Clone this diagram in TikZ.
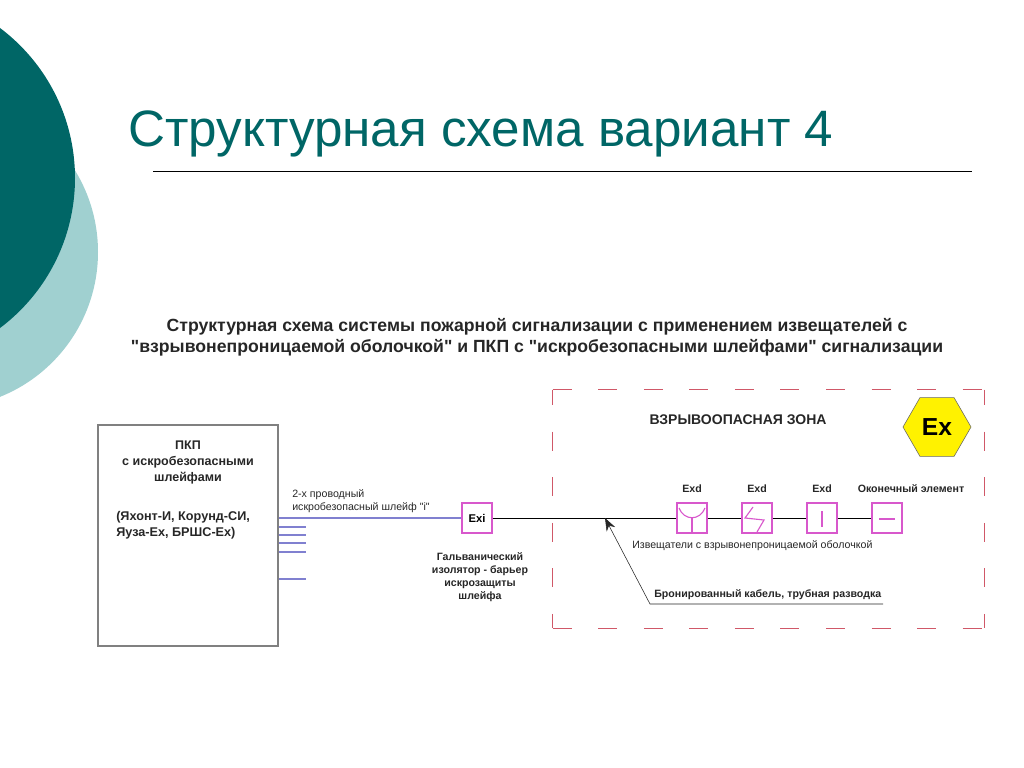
\documentclass[tikz,border=0pt]{standalone}
\usepackage{fontspec}
\setmainfont{Liberation Sans}
\newfontfamily\plainfont{Liberation Sans}
\usetikzlibrary{arrows.meta,shapes,positioning}
\definecolor{tealdark}{RGB}{0,102,102}
\definecolor{teallight}{RGB}{160,208,208}
\definecolor{zonered}{RGB}{208,88,104}
\definecolor{boxpink}{RGB}{216,88,204}
\definecolor{loopblue}{RGB}{128,128,208}
\newcommand{\qt}{{\plainfont\char34}}
\begin{document}
\begin{tikzpicture}[x=0.025cm,y=-0.025cm]
\tikzstyle{small}=[font=\fontsize{7.55}{9.2}\selectfont, text=black!85, inner sep=0pt]
\tikzstyle{bold}=[font=\fontsize{7.55}{9.2}\selectfont\bfseries, text=black!85, inner sep=0pt, align=center]
\tikzstyle{elem}=[draw=boxpink, line width=0.9pt, minimum size=7.5mm, inner sep=0pt]
\tikzstyle{zone}=[draw=zonered, line width=0.9pt, dash pattern=on 13.5pt off 18.9pt]
\tikzstyle{sym}=[draw=boxpink, line width=0.8pt]
\useasboundingbox (0,0) rectangle (1024,768);
% background
\begin{scope}
\clip (0,0) rectangle (1024,768);
\fill[teallight] (-58,252) circle [radius=156];
\fill[tealdark] (-112.5,178) circle [radius=187.5];
\end{scope}
\node[anchor=base west, inner sep=0pt, text=tealdark, font=\fontsize{36.4}{40}\selectfont] (title) at (128,147) {Структурная схема вариант 4};
\coordinate (ruleL) at (153,171);
\coordinate (ruleR) at (972,171);
\draw (ruleL) -- (ruleR);
\node[bold, font=\fontsize{12.55}{15}\selectfont\bfseries] (headtext) at (537,337) {Структурная схема системы пожарной сигнализации с применением извещателей с\\\qt взрывонепроницаемой оболочкой\qt{} и ПКП с \qt искробезопасными шлейфами\qt{} сигнализации};
% left box
\node[draw=black!50, line width=0.8pt, minimum width=45mm, minimum height=55.25mm, inner sep=0pt] (pkp) at (188,535.5) {};
\node[bold, font=\fontsize{8.9}{11.2}\selectfont\bfseries] (pkpname) at (188,462.5) {ПКП\\с искробезопасными\\шлейфами};
\node[bold, font=\fontsize{9}{11.2}\selectfont\bfseries, align=left, anchor=west] (pkptypes) at (116,525) {(Яхонт-И, Корунд-СИ,\\Яуза-Ех, БРШС-Ех)};
\foreach \y/\i in {527/1,535/2,543/3,552/4,579/5}
   {
    \coordinate (s\i) at (306,\y);
    \draw[loopblue, thick] (s\i -| pkp.east) -- (s\i);
   }
\node[elem] (exi) at (477,518) {\textbf{\fontsize{8}{9}\selectfont Exi}};
\draw[loopblue, thick] (pkp.east |- exi) -- (exi);
\node[small, align=left, anchor=west] (looplabel) at (292,501.5) {2-х проводный\\искробезопасный шлейф \qt i\qt};
\node[bold] (exitext) at (480,577) {Гальванический\\изолятор - барьер\\искрозащиты\\шлейфа};
% detectors
\foreach \name/\x in {1/692,2/757,3/822,4/887}
    \node[elem] (d\name) at (\x,518) {};
\foreach \name in {1,2,3}
    \node[bold, font=\fontsize{7.55}{9}\selectfont\bfseries] (exd\name) at ([yshift=7.25mm]d\name) {Exd};
\node[bold, font=\fontsize{7.55}{9}\selectfont\bfseries] (endtext) at (911,489) {Оконечный элемент};
\draw (exi) -- (d1);
\foreach \current/\next in {1/2,2/3,3/4}
       {
        \draw (d\current) -- (d\next);
       }
\draw[sym] (679,508) .. controls (684,521) and (700,521) .. (705,508);
\draw[sym] (d1.center) -- (d1.south);
\draw[sym] (753,507) -- (745,518) -- (764,520) -- (757,532);
\draw[draw=boxpink, line width=1.4pt] (822,511) -- (822,527);
\draw[draw=boxpink, line width=1.4pt] (879,519) -- (895,519);
\node[small, anchor=west] (dettext) at (632,546) {Извещатели с взрывонепроницаемой оболочкой};
% cable leader
\node[bold, anchor=west] (cable) at (654,595) {Бронированный кабель, трубная разводка};
\coordinate (tip) at (605,518);
\coordinate (kink) at (650,604);
\coordinate (leaderend) at (883,604);
\draw[-{Stealth[length=3.2mm,width=2.4mm]}, black!85] (leaderend) -- (kink) -- (tip);
% zone
\node[minimum width=107.75mm, minimum height=59.5mm, inner sep=0pt] (zone) at (768.5,509) {};
\draw[zone] (zone.north west) -- (zone.north east);
\draw[zone] (zone.south west) -- (zone.south east);
\draw[zone, dash phase=2.5pt] (zone.north west) -- (zone.south west);
\draw[zone, dash phase=2.5pt] (zone.north east) -- (zone.south east);
\node[bold, font=\fontsize{9.95}{11}\selectfont\bfseries] (zonetext) at (738,420) {ВЗРЫВООПАСНАЯ ЗОНА};
\node[draw=black!60, fill=yellow, regular polygon, regular polygon sides=6, minimum size=17mm, inner sep=0pt, font=\fontsize{17.5}{20}\selectfont\bfseries] (ex) at (937,427) {Ex};
\end{tikzpicture}
\end{document}
